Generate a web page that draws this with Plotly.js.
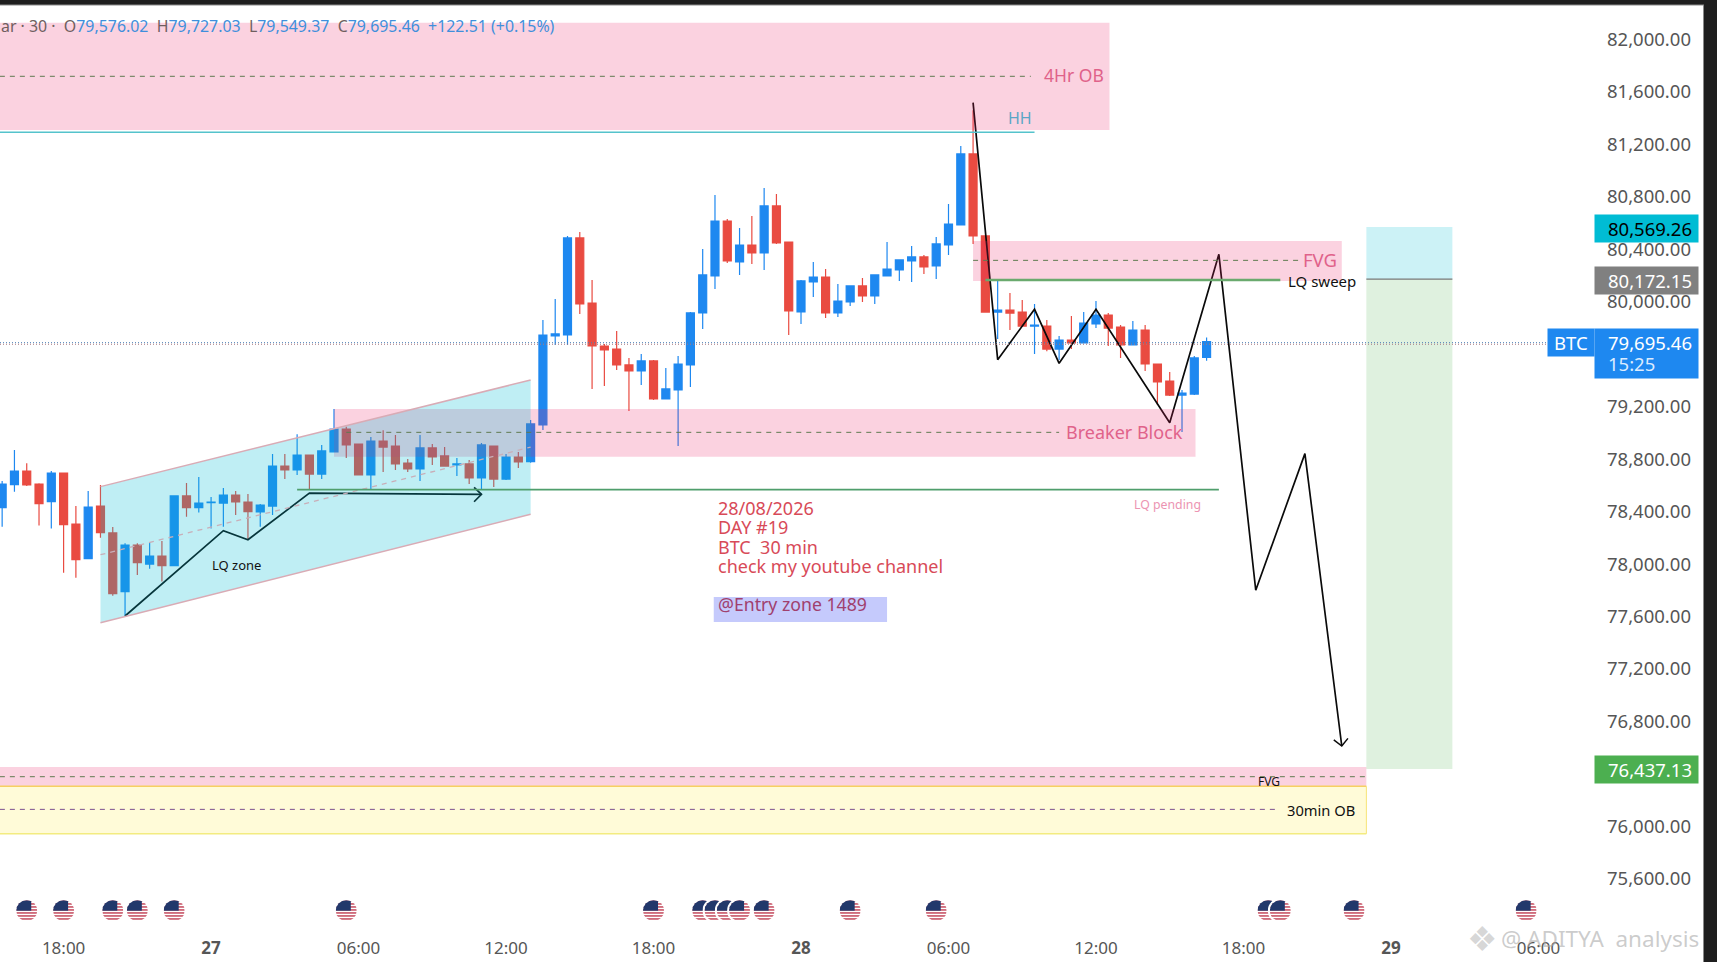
<!DOCTYPE html>
<html>
<head>
<meta charset="utf-8">
<script src="https://cdn.plot.ly/plotly-3.0.1.min.js"></script>
<style>html,body{margin:0;padding:0;background:#fff;overflow:hidden}#chart{width:1717px;height:962px}</style>
</head>
<body>
<div id="chart"></div>
<script>
// ---- candles (30 min bars, x is the bar number) ----
const opens = [78430,78605,78709,78610,78476,78694,78305,78041,78442,78237,77789,78145,78000,78061,77988,78519,78430,78468,78465,78526,78473,78397,78442,78747,78717,78831,78686,78854,79029,78915,78679,78938,78900,78770,78725,78885,78824,78755,78763,78656,78900,78648,78816,78781,79060,79739,79746,80486,79990,79662,79639,79518,79472,79548,79258,79327,79518,79914,80196,80615,80303,80432,80371,80730,80455,79922,80150,80188,79914,79998,80120,80044,80196,80242,80310,80341,80272,80432,80585,81126,80501,79921,79936,79921,79814,79814,79639,79708,79685,79830,79898,79807,79670,79784,79525,79395,79288,79296,79576];
const highs = [78633,78869,78768,78615,78709,78694,78442,78557,78603,78282,78158,78158,78166,78176,78519,78618,78664,78511,78580,78557,78534,78458,78839,78839,78989,78831,78908,79182,79047,78915,78968,79019,78984,78801,78984,78915,78892,78808,78793,78923,78900,78839,78854,79098,79861,80021,80501,80531,80165,79678,79777,79571,79601,79556,79495,79586,79922,80402,80813,80630,80562,80653,80867,80821,80455,80165,80303,80249,80135,80120,80181,80204,80455,80318,80425,80356,80493,80745,81187,81460,80501,80165,80066,80013,79982,79860,79738,79891,79921,80005,79914,79822,79853,79822,79525,79464,79327,79586,79727];
const lows = [78285,78552,78595,78293,78270,77934,77896,78041,78201,77759,77604,77917,77965,77866,77988,78361,78392,78270,78285,78374,78188,78285,78374,78648,78679,78570,78648,78854,78808,78679,78570,78702,78717,78702,78633,78755,78747,78671,78610,78570,78587,78641,78732,78773,79022,79670,79670,79906,79335,79357,79479,79167,79365,79251,79258,78900,79350,79792,80097,80295,80204,80287,80242,80440,79746,79830,80036,79876,79883,79967,79998,79983,80196,80158,80150,80211,80173,80356,80585,80440,79921,79715,79784,79814,79601,79623,79555,79639,79685,79799,79662,79571,79670,79472,79212,79281,79006,79288,79549];
const closes = [78610,78709,78603,78460,78694,78300,78033,78435,78239,77774,78145,78011,78061,77988,78519,78430,78465,78473,78526,78473,78399,78450,78747,78717,78831,78686,78862,79029,78908,78679,78938,78892,78763,78725,78885,78816,78747,78763,78656,78908,78648,78816,78778,79068,79746,79754,80486,79983,79662,79632,79518,79472,79548,79258,79335,79525,79914,80204,80615,80310,80432,80371,80730,80448,79929,80158,80188,79914,80005,80120,80044,80204,80249,80318,80341,80265,80440,80592,81126,80501,79921,79936,79913,79814,79822,79639,79708,79685,79837,79898,79799,79670,79784,79525,79388,79288,79304,79571,79695];

// ---- axes ----
const timeTicks = [5,17,29,41,53,65,77,89,101,113,125];
const timeLabels = ['18:00','<b>27</b>','06:00','12:00','18:00','<b>28</b>','06:00','12:00','18:00','<b>29</b>','06:00'];
const priceTicks = [82000,81600,81200,80800,80400,80000,79600,79200,78800,78400,78000,77600,77200,76800,76000,75600];
const priceLabels = ['82,000.00','81,600.00','81,200.00','80,800.00','80,400.00','80,000.00','','79,200.00','78,800.00','78,400.00','78,000.00','77,600.00','77,200.00','76,800.00','76,000.00','75,600.00'];

// ---- drawn paths ----
const rallyX = [10,18,20,25,39];
const rallyY = [77604,78254,78185,78541,78531];
const rallyHeadX = [38.4,39,38.4];
const rallyHeadY = [78585,78531,78475];
const forecastX = [79,81,84,86,89,95,99,102,106,109];
const forecastY = [81517,79558,79942,79530,79942,79077,80361,77800,78842,76613];
const forecastHeadX = [108.35,109,109.5];
const forecastHeadY = [76659,76613,76671];

// ---- zones ----
const ob4hX = [-1,90.1], ob4hY = [81309,82127], ob4hMid = 81718, ob4hMidEnd = 83.7;
const hhLevel = 81291, hhEnd = 84;
const fvgX = [79,109], fvgY = [80157,80462], fvgMid = 80315, fvgMidEnd = 105.5;
const sweepLevel = 80165, sweepX = [80,104];
const breakerX = [27,97.1], breakerY = [78818,79182], breakerMid = 79004, breakerMidX = [28,86];
const pendingLevel = 78567, pendingX = [24,99];
const channelX = [8,43], channelUpper = [78590,79403], channelMiddle = [78071,78891], channelLower = [77553,78379];
const fvgLowX = [-1,111], fvgLowY = [76306,76453], fvgLowMid = 76379, fvgLowMidEnd = 111;
const ob30X = [-1,111], ob30Y = [75944,76306], ob30Mid = 76130, ob30MidEnd = 103.8;
const positionX = [111,118], targetTop = 80569.26, entryLevel = 80172.15, stopBottom = 76437.13;
const lastPrice = 79695.46;
const entryBoxX = [57.9,72], entryBoxY = [77558,77749];
const eventBars = [2,5,9,11,14,28,53,57,58,59,60,62,69,76,103,104,110,124];

// ---- pixel geometry of the plot ----
const W = 1600, H = 925;
const px = v => v / W, py = v => 1 - v / H;
const FONT = '"Noto Sans", "Open Sans", sans-serif';

function rect(x, y, fill, line) {
  return {type:'rect', layer:'above', xref:'x', yref:'y', x0:x[0], x1:x[1], y0:y[0], y1:y[1], fillcolor:fill, line:line || {width:0}};
}
function seg(x0, y0, x1, y1, color, width, dash) {
  return {type:'line', layer:'above', xref:'x', yref:'y', x0, y0, x1, y1, line:{color, width, dash: dash || 'solid'}};
}
const PINK = 'rgba(233,30,99,0.2)', CYAN = 'rgba(0,188,212,0.25)', YEL = 'rgba(255,235,59,0.2)';
const DASH = '5px,5px', DG = '#5f7a50';
const shapes = [
  rect(ob4hX, ob4hY, PINK),
  rect(fvgX, fvgY, PINK),
  rect(breakerX, breakerY, PINK),
  rect(fvgLowX, fvgLowY, PINK),
  rect(ob30X, ob30Y, YEL),
  seg(-1, fvgLowY[0], 111, fvgLowY[0], '#f6cf63', 1.5),
  seg(-1, ob30Y[0], 111, ob30Y[0], '#f3ec80', 1.5),
  seg(111, ob30Y[0], 111, ob30Y[1], '#f6e478', 1),
  {type:'path', layer:'above', xref:'x', yref:'y',
   path:`M ${channelX[0]},${channelUpper[0]} L ${channelX[1]},${channelUpper[1]} L ${channelX[1]},${channelLower[1]} L ${channelX[0]},${channelLower[0]} Z`,
   fillcolor:CYAN, line:{width:0}},
  seg(channelX[0], channelUpper[0], channelX[1], channelUpper[1], '#d9abb5', 1.5),
  seg(channelX[0], channelLower[0], channelX[1], channelLower[1], '#d9abb5', 1.5),
  seg(channelX[0], channelMiddle[0], channelX[1], channelMiddle[1], '#c9aeb8', 1.3, DASH),
  seg(-1, ob4hMid, ob4hMidEnd, ob4hMid, DG, 1, DASH),
  seg(fvgX[0], fvgMid, fvgMidEnd, fvgMid, DG, 1, DASH),
  seg(breakerMidX[0], breakerMid, breakerMidX[1], breakerMid, DG, 1, DASH),
  seg(-1, fvgLowMid, fvgLowMidEnd, fvgLowMid, DG, 1, DASH),
  seg(-1, ob30Mid, ob30MidEnd, ob30Mid, '#7b4f8f', 1, DASH),
  seg(-1, hhLevel, hhEnd, hhLevel, '#55c3cc', 1.5),
  seg(sweepX[0], sweepLevel, sweepX[1], sweepLevel, '#6aaa6e', 2.5),
  seg(pendingX[0], pendingLevel, pendingX[1], pendingLevel, '#4f9e6c', 1.8),
  rect(positionX, [entryLevel, targetTop], 'rgba(0,188,212,0.2)'),
  rect(positionX, [stopBottom, entryLevel], 'rgba(76,175,80,0.18)'),
  seg(positionX[0], entryLevel, positionX[1], entryLevel, '#787878', 1.3),
  rect(entryBoxX, entryBoxY, 'rgba(63,81,245,0.3)'),
  {type:'line', layer:'above', xref:'paper', yref:'y', x0:0, x1:px(1548), y0:lastPrice-8, y1:lastPrice-8, line:{color:'#4a7fb5', width:1, dash:'1px,2px'}},
  {type:'line', layer:'above', xref:'paper', yref:'y', x0:0, x1:px(1548), y0:lastPrice-20, y1:lastPrice-20, line:{color:'#a8777f', width:1, dash:'1px,2px'}},
  // frame of the screenshot
  {type:'rect', layer:'above', xref:'paper', yref:'paper', x0:px(1704), x1:px(1730), y0:py(-10), y1:py(970), fillcolor:'#1e1e1e', line:{width:0}},
  {type:'rect', layer:'above', xref:'paper', yref:'paper', x0:px(-10), x1:px(1730), y0:py(-10), y1:py(5), fillcolor:'#1e1e1e', line:{width:0}},
  {type:'line', layer:'above', xref:'paper', yref:'paper', x0:0, x1:px(1704), y0:py(5), y1:py(5), line:{color:'#8a8a8a', width:1}},
  {type:'line', layer:'above', xref:'paper', yref:'paper', x0:px(1703.5), x1:px(1703.5), y0:py(5), y1:py(962), line:{color:'#8a8a8a', width:1}}
];

function label(text, x, y, size, color, anchor) {
  return {xref:'paper', yref:'paper', x:px(x), y:py(y), xanchor:anchor||'left', yanchor:'middle', text, showarrow:false,
          font:{family:FONT, size, color}, align:'left', borderpad:0};
}
function tag(text, x, y, w, h, bg, color, size) {
  return {xref:'paper', yref:'paper', x:px(x + w/2), y:py(y + h/2), xanchor:'center', yanchor:'middle', text, showarrow:false,
          width:w, height:h, bgcolor:bg, font:{family:FONT, size, color}, align:'center', borderpad:0};
}
const BL = '#3f8fdc', BR = '#6f5f5f';
const sp = s => `<span style="color:${s[1]}">${s[0]}</span>`;
const header = [['ar · 30 ·\u00a0\u00a0',BR],['O',BR],['79,576.02\u00a0\u00a0',BL],['H',BR],['79,727.03\u00a0\u00a0',BL],['L',BR],['79,549.37\u00a0\u00a0',BL],['C',BR],['79,695.46\u00a0\u00a0+122.51 (+0.15%)',BL]].map(sp).join('');
const ZT = '#e0628a';
const annotations = [
  label(header, 0, 26, 15.9, BR),
  label('4Hr OB', 1043, 75, 17.5, ZT),
  label('HH', 1006.5, 118, 16, '#5ba6c6'),
  label('FVG', 1302, 259, 18.5, ZT),
  label('LQ sweep', 1287, 281, 15, '#111'),
  label('Breaker Block', 1064.5, 432, 18, ZT),
  label('LQ pending', 1133, 504, 12.3, '#ec94b2'),
  label('LQ zone', 211, 565, 13, '#111'),
  label('FVG', 1257, 781, 12, '#111'),
  label('30min OB', 1286, 810, 14.7, '#111'),
  label('28/08/2026', 717, 508, 18, '#d84a58'),
  label('DAY #19', 717, 527, 18, '#d84a58'),
  label('BTC\u00a0\u00a030 min', 717, 546.5, 18, '#d84a58'),
  label('check my youtube channel', 717, 566, 18, '#d84a58'),
  label('@Entry zone 1489', 717, 604, 17.7, '#a0406e'),
  tag(' ', 1595, 215, 103, 27, '#00bcd4', '#000', 18.5),
  label('80,569.26', 1607, 228, 18.5, '#000'),
  tag(' ', 1595, 267, 103, 27, '#808080', '#fff', 18.5),
  label('80,172.15', 1607, 280, 18.5, '#fff'),
  tag('BTC', 1548, 329, 46, 27, '#1e88f0', '#fff', 18.5),
  tag(' ', 1595, 329, 103, 49, '#1e88f0', '#fff', 18.5),
  label('79,695.46', 1607, 342, 18.5, '#fff'),
  label('15:25', 1607, 363, 18.5, '#dcecff'),
  tag(' ', 1595, 755.5, 103, 27, '#4caf50', '#fff', 18.5),
  label('76,437.13', 1607, 769, 18.5, '#fff'),
  label('\u2756', 1466, 938, 34, 'rgba(175,175,175,0.5)'),
  label('@ ADITYA\u00a0\u00a0analysis', 1500, 938, 22.5, 'rgba(170,170,170,0.6)')
];

const flagSvg = '<svg xmlns="http://www.w3.org/2000/svg" width="100" height="100" viewBox="0 0 25 25">' +
  '<defs><clipPath id="c"><circle cx="12.5" cy="12.5" r="10.5"/></clipPath></defs>' +
  '<circle cx="12.5" cy="12.5" r="12.5" fill="#fff"/>' +
  '<g clip-path="url(#c)"><rect x="2" y="2" width="21" height="21" fill="#fff"/>' +
  [2,5,8,11,14,17,20].map(y => `<rect x="2" y="${y}" width="21" height="1.5" fill="#c4495c"/>`).join('') +
  '<rect x="2" y="2" width="15" height="10.5" fill="#22386b"/></g></svg>';
const flagSrc = 'data:image/svg+xml;charset=utf-8,' + encodeURIComponent(flagSvg);
const images = eventBars.map(b => ({source:flagSrc, xref:'x', yref:'paper', x:b, y:py(910.7), sizex:25/12.29, sizey:25/H,
  xanchor:'center', yanchor:'middle', sizing:'stretch', layer:'above'}));

const bars = opens.map((_, i) => i);
const blackLine = (x, y, w) => ({type:'scatter', mode:'lines', x, y, line:{color:'#0a0a0a', width:w}, hoverinfo:'skip', showlegend:false, cliponaxis:false});
const traces = [
  {type:'candlestick', x:bars, open:opens, high:highs, low:lows, close:closes,
   increasing:{line:{color:'#1e88f0', width:1.2}, fillcolor:'#1e88f0'},
   decreasing:{line:{color:'#e94b41', width:1.2}, fillcolor:'#e94b41'},
   whiskerwidth:0, hoverinfo:'skip', showlegend:false},
  blackLine(rallyX, rallyY, 1.7),
  blackLine(rallyHeadX, rallyHeadY, 1.7),
  blackLine(forecastX, forecastY, 1.7),
  blackLine(forecastHeadX, forecastHeadY, 1.5)
];

const layout = {
  width:1717, height:962, margin:{l:0, r:117, t:0, b:37, pad:0},
  paper_bgcolor:'#fff', plot_bgcolor:'#fff', showlegend:false, boxgap:0.35, boxgroupgap:0,
  xaxis:{range:[-0.175,130.01], rangeslider:{visible:false}, showgrid:false, zeroline:false, showline:false,
         tickmode:'array', tickvals:timeTicks, ticktext:timeLabels, ticks:'', tickangle:0, ticklabelstandoff:11,
         tickfont:{family:FONT, size:17, color:'#565656'}, fixedrange:true},
  yaxis:{range:[75248.5,82299.6], side:'right', showgrid:false, zeroline:false, showline:false,
         tickmode:'array', tickvals:priceTicks, ticktext:priceLabels, ticks:'', ticklabelstandoff:6,
         tickfont:{family:FONT, size:18.5, color:'#565656'}, fixedrange:true},
  shapes, annotations, images
};
Plotly.newPlot('chart', traces, layout, {displayModeBar:false, responsive:false});
</script>
</body>
</html>
